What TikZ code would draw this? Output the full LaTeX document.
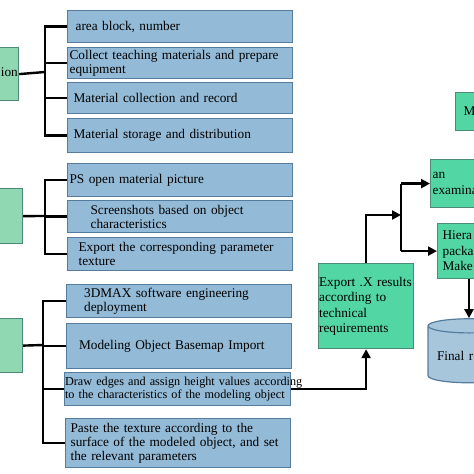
\documentclass[tikz,border=0pt]{standalone}
\usepackage{fontspec}
\setmainfont{Liberation Serif}
\usetikzlibrary{arrows.meta,shapes.geometric}

\definecolor{boxblue}{HTML}{93BAD6}
\definecolor{boxline}{HTML}{557C9C}
\definecolor{palegreen}{HTML}{90D8B2}
\definecolor{mint}{HTML}{52D6A3}
\definecolor{greenline}{HTML}{4E8A78}
\definecolor{cylblue}{HTML}{A7C6DC}

\tikzset{
  item/.style={draw=boxline, line width=1.2pt, fill=boxblue, anchor=north west,
    align=left, inner ysep=0pt, minimum width=225pt,
    font=\fontsize{13.3}{14}\selectfont},
  stage/.style={draw=greenline, line width=1.2pt, fill=palegreen, anchor=north west,
    inner sep=0pt},
  step box/.style={draw=greenline, line width=1.2pt, fill=mint, anchor=north west,
    align=left, inner ysep=0pt, font=\fontsize{13.3}{15.5}\selectfont},
  conn/.style={line width=2.4pt},
  arr/.style={conn, -{Triangle[length=9pt,width=9pt]}}
}

\begin{document}
\begin{tikzpicture}[x=1pt, y=-1pt]

  \useasboundingbox (0,0) rectangle (474,474);
  \clip (0,0) rectangle (474,474);

  % left column
  \node[stage, minimum width=28pt, minimum height=53pt] (g1) at (-10,47) {};
  \node[anchor=east, inner sep=0pt, font=\fontsize{13.3}{14}\selectfont] (g1t) at (18,72) {ion};
  \node[stage, minimum width=32pt, minimum height=55pt] (g2) at (-10,188) {};
  \node[stage, minimum width=32pt, minimum height=54pt] (g3) at (-10,318) {};

  % first group
  \node[item, minimum height=32pt, inner xsep=8pt, text width=209pt] (a1) at (67,10)
    {area block, number};
  \node[item, minimum height=31pt, inner xsep=2pt, text width=221pt] (a2) at (67,47)
    {Collect teaching materials and prepare\\equipment};
  \node[item, minimum height=31pt, inner xsep=6pt, text width=213pt] (a3) at (67,82)
    {Material collection and record};
  \node[item, minimum height=34pt, inner xsep=6pt, text width=213pt] (a4) at (67,118)
    {Material storage and distribution};

  % second group
  \node[item, minimum height=33pt, inner xsep=2pt, text width=221pt] (b1) at (67,163)
    {PS open material picture};
  \node[item, minimum height=32pt, inner xsep=23pt, text width=179pt] (b2) at (67,200)
    {Screenshots based on object\\characteristics};
  \node[item, minimum height=33pt, inner xsep=11pt, text width=203pt] (b3) at (67,237)
    {Export the corresponding parameter\\texture};

  % third group
  \node[item, minimum height=33pt, inner xsep=17pt, text width=190pt] (c1) at (66,284)
    {3DMAX software engineering\\deployment};
  \node[item, minimum height=45pt, inner xsep=12pt, text width=200pt] (c2) at (66,323)
    {Modeling Object Basemap Import};
  \node[item, minimum height=33pt, inner xsep=0.5pt, text width=225pt,
    font=\fontsize{12.2}{12.5}\selectfont] (c3) at (64,372)
    {\mbox{Draw edges and assign height values according}\\\mbox{to the characteristics of the modeling object}};
  \node[item, minimum height=49pt, inner xsep=5pt, text width=215pt] (c4) at (65,418)
    {Paste the texture according to the\\surface of the modeled object, and set\\the relevant parameters};

  \coordinate (s1) at (45,72);
  \coordinate (s2) at (45,216);
  \coordinate (s3) at (43,345);

  \draw[conn] (g1.east) -- (s1);
  \foreach \n in {a1,a2,a3,a4}
    \draw[conn] (s1) |- (\n.west);

  \draw[conn] (g2.east) -- (s2);
  \foreach \n in {b1,b2,b3}
    \draw[conn] (s2) |- (\n.west);

  \draw[conn] (g3.east) -- (s3);
  \foreach \n in {c1,c2,c3,c4}
    \draw[conn] (s3) |- (\n.west);

  % right part
  \node[step box, minimum height=85pt, inner xsep=0.5pt, text width=94pt] (exp) at (318,263)
    {Export .X results\\according to\\technical\\requirements};
  \node[step box, minimum height=48pt, inner xsep=2pt, text width=76pt] (ann) at (430,159)
    {an\\examina};
  \node[step box, minimum height=55pt, inner xsep=5pt, text width=70pt] (hie) at (437,223)
    {Hiera\\packa\\Make};
  \node[step box, minimum height=38pt, inner xsep=8pt, text width=60pt] (mbox) at (455,92)
    {M};
  \node[cylinder, shape border rotate=90, aspect=0.2, draw=boxline, line width=1.2pt,
    fill=cylblue, minimum width=82pt, minimum height=64pt, text width=64pt, align=left,
    font=\fontsize{13.3}{15.5}\selectfont] (db) at (469,356) {Final r};

  \coordinate (fork) at (401,215);

  \draw[arr] (c3.east) -| (exp.south);
  \draw[arr] (exp.north) |- (fork);
  \draw[conn] (fork |- ann.west) -- (fork |- hie.west);
  \draw[arr] (fork |- ann.west) -- (ann.west);
  \draw[arr] (fork |- hie.west) -- (hie.west);
  \draw[arr] (db.north |- hie.south) -- (db.north);

\end{tikzpicture}
\end{document}
